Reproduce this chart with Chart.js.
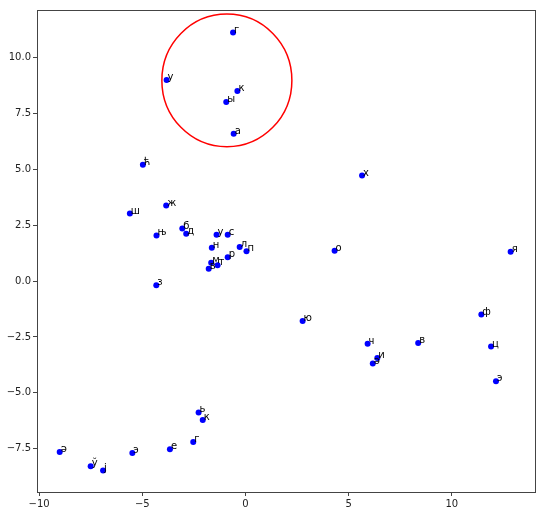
<!DOCTYPE html>
<html>
<head>
<meta charset="utf-8">
<script src="https://cdn.jsdelivr.net/npm/chart.js@4/dist/chart.umd.min.js"></script>
<style>
  body { margin: 0; background: #fff; }
  canvas { display: block; }
</style>
</head>
<body>
<canvas id="chart" width="550" height="521"></canvas>
<script>
// letters and their 2d coordinates
const letters = ["г", "у", "к", "ы", "а", "ћ", "ж", "ш", "б", "д", "њ", "у", "с", "н", "л", "п", "р", "м", "т", "в",
    "з", "х", "о", "я", "ю", "ф", "ч", "и", "ә", "в", "ц", "э", "ә", "ў", "j", "э", "е", "г", "ь", "к"];
const xs = [-0.6, -3.82, -0.39, -0.93, -0.57, -4.97, -3.84, -5.6, -3.06, -2.87, -4.31, -1.4, -0.86, -1.63, -0.28, 0.05, -0.86, -1.66, -1.35, -1.78,
    -4.32, 5.65, 4.32, 12.85, 2.77, 11.43, 5.92, 6.39, 6.17, 8.37, 11.9, 12.14, -9.0, -7.5, -6.9, -5.48, -3.66, -2.53, -2.27, -2.07];
const ys = [11.12, 9.0, 8.51, 8.01, 6.59, 5.21, 3.38, 3.02, 2.35, 2.12, 2.04, 2.07, 2.07, 1.49, 1.52, 1.33, 1.07, 0.82, 0.71, 0.55,
    -0.19, 4.72, 1.36, 1.31, -1.79, -1.5, -2.81, -3.44, -3.69, -2.77, -2.93, -4.48, -7.65, -8.29, -8.48, -7.69, -7.53, -7.2, -5.88, -6.22];

const xTicks = [-10, -5, 0, 5, 10];
const yTicks = [-7.5, -5.0, -2.5, 0.0, 2.5, 5.0, 7.5, 10.0];

// highlighted cluster
const circleCenter = [-0.9, 8.98];
const circleRadius = [3.15, 2.97];

const fmt = (v, d) => v.toFixed(d).replace("-", "\u2212");

const labelPlugin = {
    id: "letters",
    afterDatasetsDraw(chart) {
        const ctx = chart.ctx;
        const xs_ = chart.scales.x, ys_ = chart.scales.y;
        ctx.save();
        ctx.font = "10px 'DejaVu Sans'";
        ctx.fillStyle = "#000";
        ctx.textAlign = "left";
        ctx.textBaseline = "alphabetic";
        letters.forEach((l, i) => {
            ctx.fillText(l, xs_.getPixelForValue(xs[i]) + 1, ys_.getPixelForValue(ys[i]));
        });
        // circle
        const cx = xs_.getPixelForValue(circleCenter[0]);
        const cy = ys_.getPixelForValue(circleCenter[1]);
        const rx = xs_.getPixelForValue(circleCenter[0] + circleRadius[0]) - cx;
        const ry = cy - ys_.getPixelForValue(circleCenter[1] + circleRadius[1]);
        ctx.beginPath();
        ctx.ellipse(cx, cy, rx, ry, 0, 0, Math.PI * 2);
        ctx.strokeStyle = "#ff0000";
        ctx.lineWidth = 1.5;
        ctx.stroke();
        // frame
        const a = chart.chartArea;
        ctx.strokeStyle = "#444";
        ctx.lineWidth = 1;
        ctx.strokeRect(Math.round(a.left) + 0.5, Math.round(a.top) + 0.5, Math.round(a.right - a.left), Math.round(a.bottom - a.top));
        ctx.restore();
    }
};

new Chart(document.getElementById("chart"), {
    type: "scatter",
    data: {
        datasets: [{
            data: xs.map((x, i) => ({ x: x, y: ys[i] })),
            backgroundColor: "#0000ff",
            borderColor: "#0000ff",
            pointRadius: 3,
            pointHoverRadius: 3,
            borderWidth: 0
        }]
    },
    options: {
        responsive: false,
        animation: false,
        layout: { padding: { top: 10, right: 15, left: 0, bottom: 0 } },
        plugins: { legend: { display: false }, tooltip: { enabled: false } },
        scales: {
            x: {
                type: "linear",
                min: -10.1,
                max: 14.03,
                afterBuildTicks: s => { s.ticks = xTicks.map(v => ({ value: v })); },
                afterFit: s => { s.height = 29; },
                grid: { display: true, drawOnChartArea: false, drawTicks: true, tickLength: 4, color: "#444" },
                border: { display: false },
                ticks: {
                    font: { family: "'DejaVu Sans'", size: 10 },
                    color: "#222",
                    padding: 2,
                    maxRotation: 0,
                    callback: v => fmt(v, 0)
                }
            },
            y: {
                type: "linear",
                min: -9.44,
                max: 12.13,
                afterBuildTicks: s => { s.ticks = yTicks.map(v => ({ value: v })); },
                afterFit: s => { s.width = 37; },
                grid: { display: true, drawOnChartArea: false, drawTicks: true, tickLength: 4, color: "#444" },
                border: { display: false },
                ticks: {
                    font: { family: "'DejaVu Sans'", size: 10 },
                    color: "#222",
                    padding: 2,
                    callback: v => fmt(v, 1)
                }
            }
        }
    },
    plugins: [labelPlugin]
});
</script>
</body>
</html>
